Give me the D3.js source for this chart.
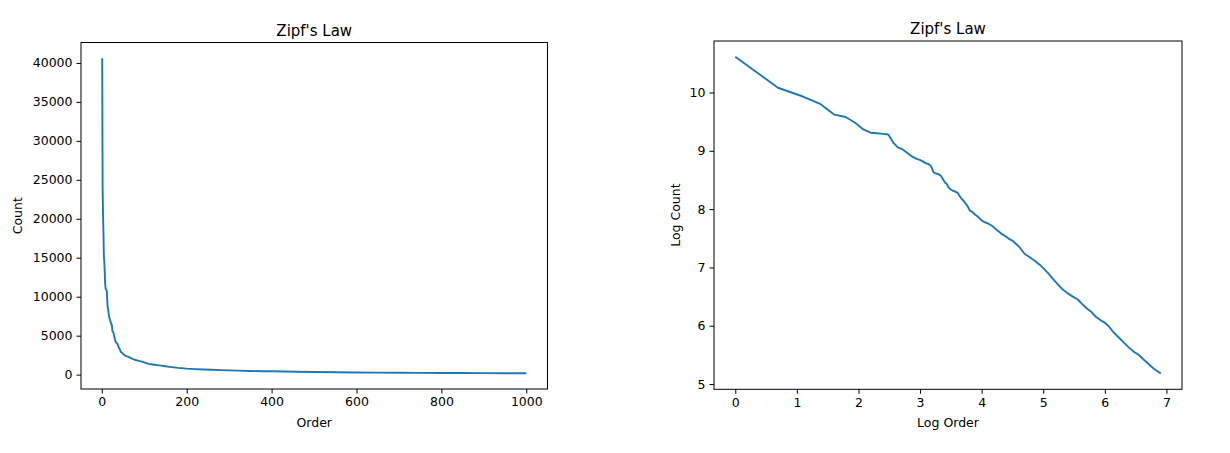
<!DOCTYPE html>
<html>
<head>
<meta charset="utf-8">
<script src="https://cdn.jsdelivr.net/npm/d3@7"></script>
<style>
  html, body { margin: 0; padding: 0; background: #fff; }
  svg { display: block; font-family: "DejaVu Sans", sans-serif; }
</style>
</head>
<body>
<svg id="chart" width="1230" height="453"></svg>
<script>
// ---- data ----
const ranks = [1,2,3,4,5,6,7,8,9,10,11,12,13,14,15,16,17,18,19,20,21,22,23,24,25,26,27,28,29,30,31,32,33,34,35,37,39,41,43,45,47,49,52,55,58,61,65,70,75,80,85,90,100,110,120,130,140,150,160,180,200,220,240,260,280,300,320,350,380,400,430,460,500,550,600,650,700,750,800,850,900,950,1000];
const counts = [40600,23900,20560,18030,15060,14470,13100,11700,11050,10940,10830,10720,9330,8600,8350,7940,7560,7260,7050,6940,6760,6560,6460,6250,5600,5490,5430,5320,5010,4720,4580,4310,4190,4100,4060,3940,3610,3400,3190,2920,2840,2720,2590,2440,2370,2320,2230,2080,1960,1880,1790,1740,1570,1380,1300,1225,1150,1075,1000,865,765,706,665,633,584,545,518,469,441,428,400,365,334,302,276,257,245,228,215,202,192,185,178];

const leftXTicks = [0,200,400,600,800,1000];
const leftYTicks = [0,5000,10000,15000,20000,25000,30000,35000,40000];
const rightXTicks = [0,1,2,3,4,5,6,7];
const rightYTicks = [5,6,7,8,9,10];

const titleText = "Zipf's Law";
const leftLabels = { x: "Order", y: "Count" };
const rightLabels = { x: "Log Order", y: "Log Count" };

// ---- drawing ----
const svg = d3.select("#chart");
const lineColor = "#1f77b4";

function padded(ext) {
  const r = ext[1] - ext[0];
  return [ext[0] - 0.05 * r, ext[1] + 0.05 * r];
}

function panel(opts) {
  const { left, top, width, height, xs, ys, xTicks, yTicks, labels, yLabelX, titleY } = opts;
  const g = svg.append("g").attr("transform", `translate(${left},${top})`);
  const x = d3.scaleLinear().domain(padded(d3.extent(xs))).range([0, width]);
  const y = d3.scaleLinear().domain(padded(d3.extent(ys))).range([height, 0]);

  const pts = xs.map((v, i) => [v, ys[i]]);
  g.append("path")
    .datum(pts)
    .attr("fill", "none")
    .attr("stroke", lineColor)
    .attr("stroke-width", 1.9)
    .attr("stroke-linejoin", "round")
    .attr("stroke-linecap", "butt")
    .attr("d", d3.line().x(d => x(d[0])).y(d => y(d[1])));

  const xa = g.append("g").attr("transform", `translate(0,${height})`)
    .call(d3.axisBottom(x).tickValues(xTicks).tickSize(4.5).tickPadding(4).tickFormat(d3.format("d")));
  const ya = g.append("g")
    .call(d3.axisLeft(y).tickValues(yTicks).tickSize(4.5).tickPadding(4).tickFormat(d3.format("d")));
  [xa, ya].forEach(a => {
    a.select(".domain").remove();
    a.selectAll("line").attr("stroke", "#000").attr("stroke-width", 1);
    a.selectAll("text").attr("fill", "#000").style("font-size", "12.5px").style("font-family", "DejaVu Sans");
  });

  g.append("rect")
    .attr("x", 0).attr("y", 0).attr("width", width).attr("height", height)
    .attr("fill", "none").attr("stroke", "#000").attr("stroke-width", 1);

  g.append("text")
    .attr("x", width / 2).attr("y", titleY)
    .attr("text-anchor", "middle")
    .style("font-size", "15px").attr("fill", "#000")
    .text(titleText);

  g.append("text")
    .attr("x", width / 2).attr("y", height + 38)
    .attr("text-anchor", "middle")
    .style("font-size", "12.5px").attr("fill", "#000")
    .text(labels.x);

  g.append("text")
    .attr("transform", `translate(${yLabelX},${height / 2}) rotate(-90)`)
    .attr("text-anchor", "middle")
    .style("font-size", "12.5px").attr("fill", "#000")
    .text(labels.y);
}

panel({
  left: 81, top: 42.5, width: 466.5, height: 346.5,
  xs: ranks, ys: counts,
  xTicks: leftXTicks, yTicks: leftYTicks,
  labels: leftLabels, yLabelX: -59, titleY: -7
});

panel({
  left: 714, top: 41, width: 468, height: 348.3,
  xs: ranks.map(Math.log), ys: counts.map(Math.log),
  xTicks: rightXTicks, yTicks: rightYTicks,
  labels: rightLabels, yLabelX: -34, titleY: -7
});
</script>
</body>
</html>
